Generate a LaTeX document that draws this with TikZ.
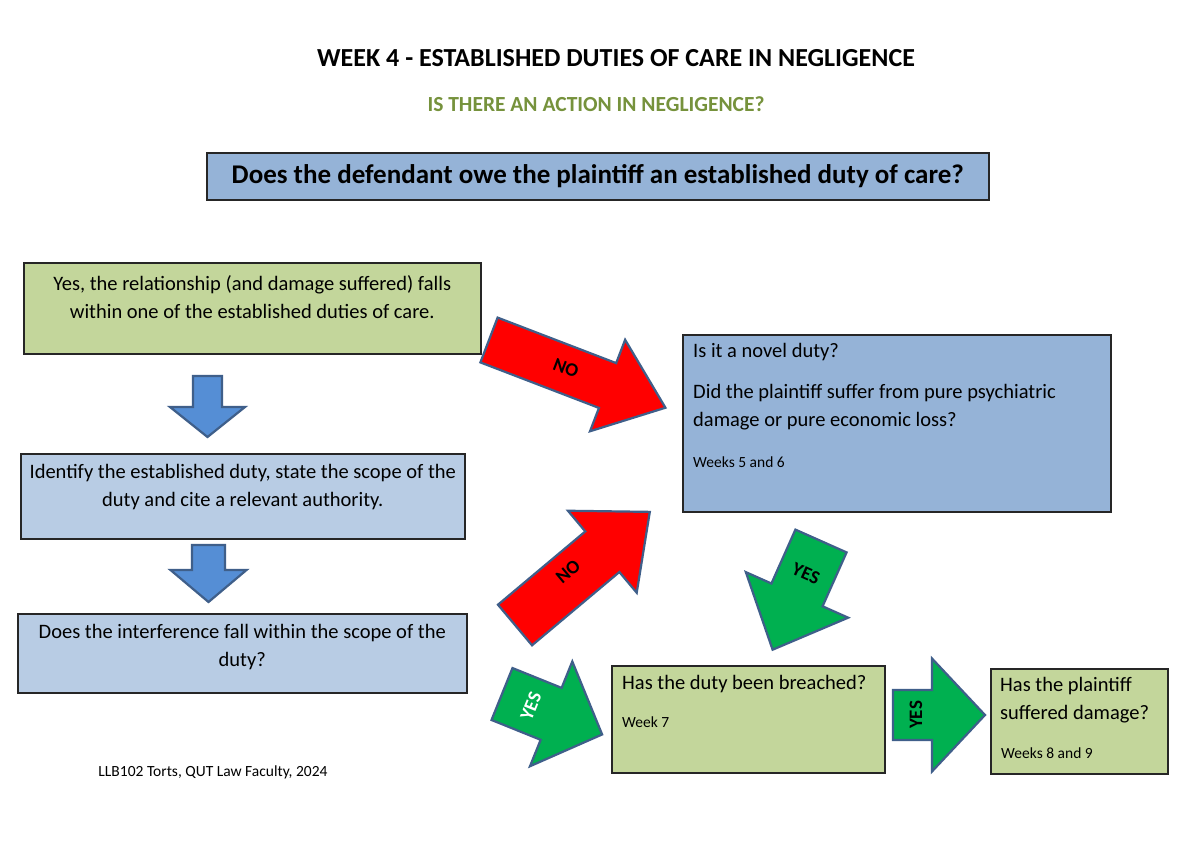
\documentclass[tikz,border=0pt]{standalone}
\usepackage{fontspec}
\setmainfont{Carlito}
\begin{document}
\begin{tikzpicture}[x=1pt,y=-1pt,
 box/.style={draw=black!85,line width=1.5pt,anchor=north west,inner sep=0pt},
 green/.style={fill=lgreen},
 arrowline/.style={draw=bordblue,line width=2.2pt,line join=miter},
 body/.style={font=\fontsize{20.5}{28}\selectfont,align=center},
 small/.style={anchor=north west,font=\fontsize{15.5}{18}\selectfont,inner sep=0pt},
 lbl/.style={font=\fontsize{19}{22}\selectfont\bfseries}]
\definecolor{lgreen}{HTML}{C3D69B}
\definecolor{lblue}{HTML}{B8CCE4}
\definecolor{mblue}{HTML}{95B3D7}
\definecolor{bordblue}{HTML}{3F5F8A}
\definecolor{agreen}{HTML}{00B050}
\definecolor{ablue}{HTML}{558ED5}
\definecolor{olive}{HTML}{76923C}
\useasboundingbox[fill=white] (0,0) rectangle (1200,849);
\newcommand{\blockarrow}[7]{%
 \path[arrowline,fill=#7,shift={#1},rotate=-#2] (0,-#4/2) -- (#3-#6,-#4/2) -- (#3-#6,-#5/2) -- (#3,0) -- (#3-#6,#5/2) -- (#3-#6,#4/2) -- (0,#4/2) -- cycle;}
\node[font=\fontsize{26}{30}\selectfont\bfseries] (t1) at (616,58) {WEEK 4 - ESTABLISHED DUTIES OF CARE IN NEGLIGENCE};
\node[font=\fontsize{21.5}{25}\selectfont\bfseries,text=olive] (t2) at (596,104) {IS THERE AN ACTION IN NEGLIGENCE?};
\node[box,fill=mblue,minimum width=782pt,minimum height=47pt] (q) at (206,152) {};
\node[font=\fontsize{27}{30}\selectfont\bfseries] at (q.center) {Does the defendant owe the plaintiff an established duty of care?};
\node[box,green,minimum width=457pt,minimum height=91pt] (b1) at (23,262) {};
\node[body] at ([yshift=11]b1.center) {Yes, the relationship (and damage suffered) falls\\within one of the established duties of care.};
\node[box,fill=lblue,minimum width=444pt,minimum height=85pt] (b2) at (20,453) {};
\node[body] at ([yshift=9]b2.center) {Identify the established duty, state the scope of the\\duty and cite a relevant authority.};
\node[box,fill=lblue,minimum width=449pt,minimum height=79pt] (b3) at (17,613) {};
\node[body] at ([yshift=6]b3.center) {Does the interference fall within the scope of the\\duty?};
\node[box,fill=mblue,minimum width=428pt,minimum height=177pt] (nv) at (682,334) {};
\node[anchor=north west,font=\fontsize{20.5}{24}\selectfont,inner sep=0pt] at (693,343) {Is it a novel duty?};
\node[anchor=north west,font=\fontsize{20.5}{28}\selectfont,align=left,inner sep=0pt] at (693,384) {Did the plaintiff suffer from pure psychiatric\\damage or pure economic loss?};
\node[small] at (693,457) {Weeks 5 and 6};
\node[box,green,minimum width=273pt,minimum height=107pt] (br) at (611,665) {};
\node[anchor=north west,font=\fontsize{20.5}{24}\selectfont,inner sep=0pt] at (622,675) {Has the duty been breached?};
\node[small] at (622,717) {Week 7};
\node[box,green,minimum width=177pt,minimum height=105pt] (dm) at (990,668) {};
\node[anchor=north west,font=\fontsize{20.5}{28}\selectfont,align=left,inner sep=0pt] at (1000,677) {Has the plaintiff\\suffered damage?};
\node[small] at (1001,748) {Weeks 8 and 9};
\node[font=\fontsize{15.5}{18}\selectfont] (ft) at (213,772) {LLB102 Torts, QUT Law Faculty, 2024};
\blockarrow{(207.5,376)}{90}{61}{29}{75}{30}{ablue}
\blockarrow{(208.5,545)}{90}{57}{33}{76}{32}{ablue}
\blockarrow{(489,340)}{21}{189}{48}{98}{62}{red}
\node[lbl,rotate=-21] at (566,368) {NO};
\blockarrow{(515,625)}{-40}{176}{53}{107}{62}{red}
\node[lbl,rotate=40] at (568,572) {NO};
\blockarrow{(821,541)}{114}{119}{56}{112}{60}{agreen}
\node[lbl,rotate=-24] at (806,574) {YES};
\blockarrow{(502,694)}{22}{108}{56}{113}{55}{agreen}
\node[lbl,text=white,rotate=68] at (531,706) {YES};
\blockarrow{(893,715)}{0}{92}{50}{113}{53}{agreen}
\node[lbl,rotate=90] at (916,715) {YES};
\end{tikzpicture}
\end{document}
